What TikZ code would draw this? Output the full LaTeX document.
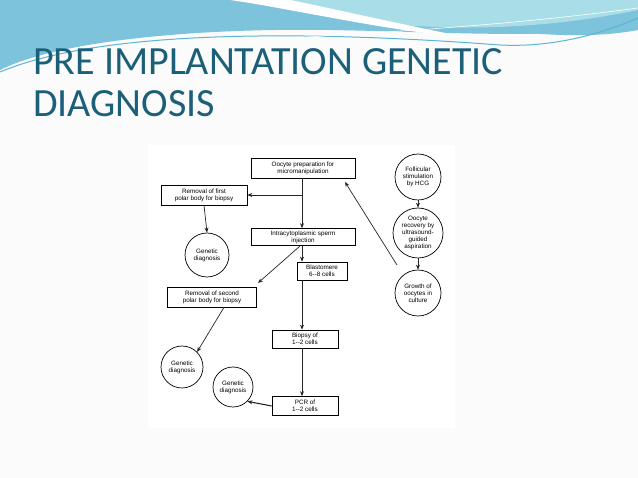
\documentclass[tikz,border=0pt]{standalone}
\usepackage{fontspec}
\setmainfont{Carlito}
\newfontfamily\figfont{Liberation Sans}
\usetikzlibrary{arrows.meta}
\definecolor{titlec}{HTML}{1B5F78}
\definecolor{waveA}{HTML}{7CC3DB}
\definecolor{waveB}{HTML}{A9DDE8}
\definecolor{waveC}{HTML}{5DB5D4}
\tikzset{
  bx/.style={draw, line width=0.7pt, font=\figfont\fontsize{6.3}{6.8}\selectfont, align=center, inner sep=1pt},
  cr/.style={draw, circle, line width=0.7pt, font=\figfont\fontsize{6.3}{6.8}\selectfont, align=center, inner sep=0pt},
  ar/.style={-{Stealth[length=5pt,width=4pt]}, line width=0.7pt, draw=black!85}
}
\begin{document}
\begin{tikzpicture}[x=1pt,y=-1pt]
\useasboundingbox (0,0) rectangle (638,478);
\fill[white!97!gray] (0,0) rectangle (638,478);
% waves
\fill[waveA] (0,0) -- (300,0) .. controls (450,25) and (560,45) .. (638,30) -- (638,0) -- cycle;
\fill[waveA] (0,0) -- (0,70) .. controls (60,40) and (200,28) .. (330,30) .. controls (450,32) and (560,40) .. (638,25) -- (638,0) -- cycle;
\fill[waveB] (240,0) .. controls (330,20) and (470,45) .. (638,10) -- (638,0) -- cycle;
\fill[white] (230,0) .. controls (300,10) and (380,30) .. (470,38) .. controls (390,22) and (330,8) .. (290,0) -- cycle;
\draw[waveC, line width=1pt] (0,72) .. controls (100,30) and (300,30) .. (500,45) .. controls (560,48) and (610,30) .. (638,18);
\draw[white, line width=0.6pt] (40,62) .. controls (200,35) and (400,40) .. (638,8);
% title
\node[anchor=base west, text=titlec, font=\fontsize{40}{44}\selectfont, inner sep=0] (t1) at (33,75) {PRE IMPLANTATION GENETIC};
\node[anchor=base west, text=titlec, font=\fontsize{40}{44}\selectfont, inner sep=0] (t2) at (33,117) {DIAGNOSIS};
% figure panel
\fill[white] (148,145) rectangle (455,428);
\node[bx, minimum width=104, minimum height=20] (prep) at (303,168) {Oocyte preparation for\\micromanipulation};
\node[bx, minimum width=86, minimum height=20] (rem1) at (204,195) {Removal of first\\polar body for biopsy};
\node[cr, minimum size=44] (g1) at (207,255) {Genetic\\diagnosis};
\node[bx, minimum width=104, minimum height=17] (icsi) at (303,237) {Intracytoplasmic sperm\\injection};
\node[bx, minimum width=50, minimum height=18] (blast) at (322,271) {Blastomere\\6--8 cells};
\node[bx, minimum width=89, minimum height=20] (rem2) at (212,297) {Removal of second\\polar body for biopsy};
\node[bx, minimum width=66, minimum height=18] (biop) at (305,339) {Biopsy of\\1--2 cells};
\node[cr, minimum size=42] (g2) at (182,367) {Genetic\\diagnosis};
\node[cr, minimum size=40] (g3) at (233,387) {Genetic\\diagnosis};
\node[bx, minimum width=66, minimum height=19] (pcr) at (305,406) {PCR of\\1--2 cells};
\node[cr, minimum size=46] (fol) at (418,177) {Follicular\\stimulation\\by HCG};
\node[cr, minimum size=50] (rec) at (418,233) {Oocyte\\recovery by\\ultrasound-\\guided\\aspiration};
\node[cr, minimum size=46] (gro) at (418,293) {Growth of\\oocytes in\\culture};
\coordinate (br) at (302,195);
\coordinate (ic) at (300,246);
\coordinate (r2t) at (258,283);
\coordinate (gs) at (397,265);
\coordinate (pe) at (345,182);
% arrows
\draw[ar] (prep.south -| br) -- (icsi.north -| br);
\draw[ar] (br) -- (rem1.east);
\draw[ar] (rem1.south) -- (g1.north);
\draw[ar] (icsi.south -| br) -- (blast.north -| br);
\draw[ar] (blast.south -| br) -- (biop.north -| br);
\draw[ar] (biop.south -| br) -- (pcr.north -| br);
\draw[ar] (ic) -- (r2t);
\draw[ar] ([xshift=12pt]rem2.south) -- (g2.north east);
\draw[ar, line width=1.1pt] (pcr.west) -- (g3.south east);
\draw[ar] (fol) -- (rec);
\draw[ar] (rec) -- (gro);
\draw[ar] (gs) -- (pe);
\end{tikzpicture}
\end{document}
